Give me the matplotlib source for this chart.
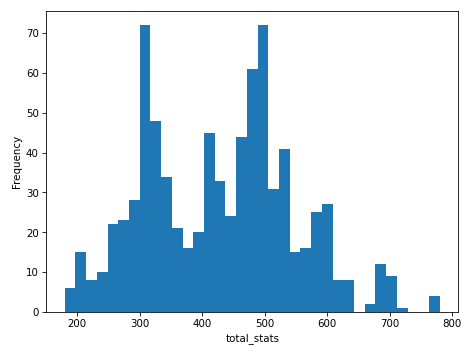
import matplotlib
matplotlib.use("Agg")
import matplotlib.pyplot as plt
import numpy as np

# histogram of total_stats, 35 bins between 180 and 780
bin_start = 180
bin_stop = 780
n_bins = 35
counts = [6, 15, 8, 10, 22, 23, 28, 72, 48, 34, 21, 16, 20, 45, 33, 24, 44, 61, 72,
          31, 41, 15, 16, 25, 27, 8, 8, 0, 2, 12, 9, 1, 0, 0, 4]

edges = np.linspace(bin_start, bin_stop, n_bins + 1)
centers = (edges[:-1] + edges[1:]) / 2

fig = plt.figure(figsize=(6.4, 4.8), dpi=74)
plt.subplots_adjust(left=0.097, right=0.968, bottom=0.121, top=0.969)
plt.hist(centers, bins=edges, weights=counts)
plt.xlabel("total_stats")
plt.ylabel("Frequency")
plt.savefig("out.png", dpi=74)
